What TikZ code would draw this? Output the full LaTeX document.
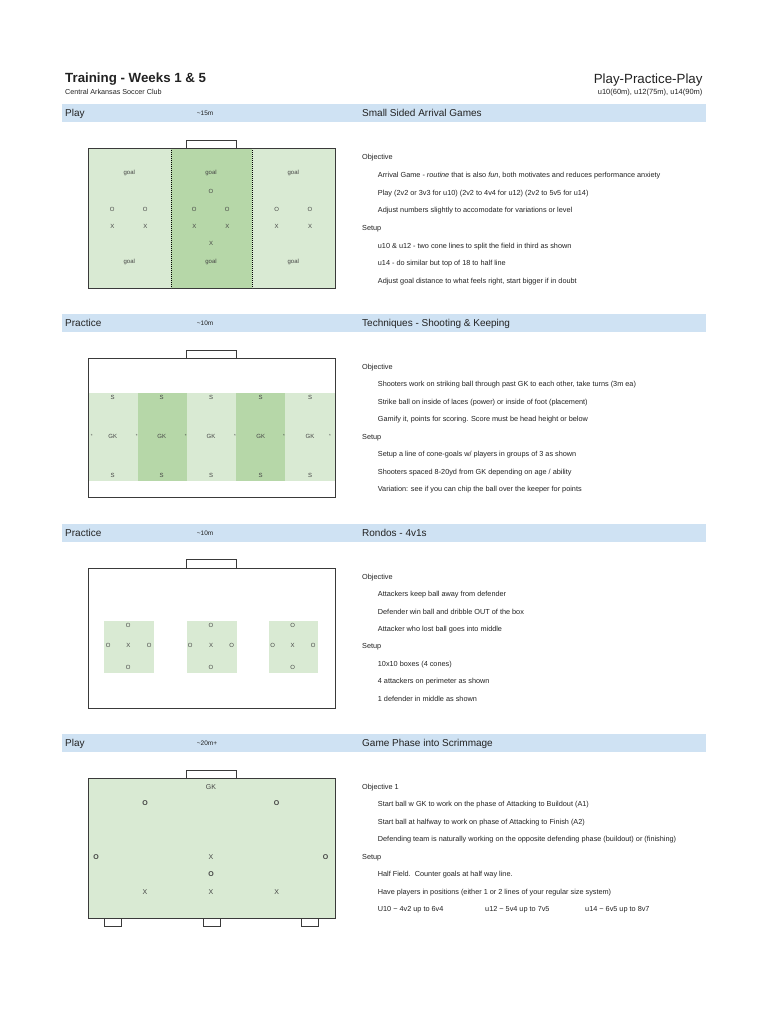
\documentclass[tikz,border=0pt]{standalone}
\usepackage{fontspec}
\setmainfont{Liberation Sans}
\definecolor{barblue}{HTML}{CFE2F3}
\definecolor{lgreen}{HTML}{D9EAD3}
\definecolor{dgreen}{HTML}{B6D7A8}
\definecolor{edgegray}{HTML}{3A3A3A}
\definecolor{ink}{HTML}{222222}
\definecolor{lblink}{HTML}{444444}
\begin{document}
\begin{tikzpicture}[x=1pt,y=-1pt,
  body/.style={anchor=mid west, inner sep=0pt, font=\fontsize{7.3}{8}\selectfont, text=ink},
  barhead/.style={anchor=base west, inner sep=0pt, font=\fontsize{10}{12}\selectfont, text=ink},
  barsmall/.style={anchor=base west, inner sep=0pt, font=\fontsize{6.5}{7}\selectfont, text=ink},
  lbl/.style={inner sep=0pt, font=\fontsize{6}{7}\selectfont, text=lblink},
  lblb/.style={inner sep=0pt, font=\fontsize{7}{8}\selectfont, text=lblink},
  cone/.style={inner sep=0pt, font=\fontsize{4.5}{5}\selectfont, text=lblink},
  fieldline/.style={draw=edgegray, line width=0.9pt},
  barfill/.style={fill=barblue}]
\useasboundingbox[fill=white] (0,0) rectangle (768,1024);

% ---------- page header ----------
\node[anchor=base west, inner sep=0pt, font=\fontsize{13.3}{15}\selectfont\bfseries, text=ink] (title) at (65,82.7) {Training - Weeks 1 \& 5};
\node[anchor=base west, inner sep=0pt, font=\fontsize{7.2}{8}\selectfont, text=ink] (club) at (65,94.7) {Central Arkansas Soccer Club};
\node[anchor=base east, inner sep=0pt, font=\fontsize{13.3}{15}\selectfont, text=ink] (ppp) at (702.7,83.3) {Play-Practice-Play};
\node[anchor=base east, inner sep=0pt, font=\fontsize{7.5}{8}\selectfont, text=ink] (ages) at (702.7,94.3) {u10(60m), u12(75m), u14(90m)};

% ================= Section 1 =================
\fill[barfill] (61.7,104) rectangle (706,122);
\node[barhead] (h1a) at (65,116.7) {Play};
\node[barsmall] (h1b) at (196.7,115.5) {\textasciitilde15m};
\node[barhead] (h1c) at (362,116.7) {Small Sided Arrival Games};

\fill[lgreen] (88.3,148.3) rectangle (171,288.3);
\fill[dgreen] (171,148.3) rectangle (252.3,288.3);
\fill[lgreen] (252.3,148.3) rectangle (335,288.3);
\draw[draw=black, line width=0.8pt, dash pattern=on 1pt off 1pt] (171,148.3) -- (171,288.3);
\draw[draw=black, line width=0.8pt, dash pattern=on 1pt off 1pt] (252.3,148.3) -- (252.3,288.3);
\draw[fieldline] (88.3,148.3) rectangle (335,288.3);
\draw[fieldline] (186.7,148.3) -- (186.7,140) -- (236.7,140) -- (236.7,148.3);

\foreach \x/\n in {129.3/a,211/b,293.3/c}{
  \node[lbl] (g1t\n) at (\x,173.3) {goal};
  \node[lbl] (g1b\n) at (\x,261.7) {goal};
}
\node[lbl] (o1top) at (211,191.7) {O};
\foreach \x/\n in {112.3/a,145.3/b,194.3/c,227.3/d,276.7/e,310/f}{
  \node[lbl] (o1\n) at (\x,209) {O};
  \node[lbl] (x1\n) at (\x,226) {X};
}
\node[lbl] (x1bot) at (211,243.7) {X};

\node[body] (t1o) at (362,157.3) {Objective};
\node[body] (t1a) at (377.7,175) {Arrival Game - \textit{routine} that is also \textit{fun}, both motivates and reduces performance anxiety};
\node[body] (t1b) at (377.7,192.7) {Play (2v2 or 3v3 for u10) (2v2 to 4v4 for u12) (2v2 to 5v5 for u14)};
\node[body] (t1c) at (377.7,210.3) {Adjust numbers slightly to accomodate for variations or level};
\node[body] (t1s) at (362,228.3) {Setup};
\node[body] (t1d) at (377.7,245.7) {u10 \& u12 - two cone lines to split the field in third as shown};
\node[body] (t1e) at (377.7,263) {u14 - do similar but top of 18 to half line};
\node[body] (t1f) at (377.7,280.7) {Adjust goal distance to what feels right, start bigger if in doubt};

% ================= Section 2 =================
\begin{scope}[shift={(0,210)}]
\fill[barfill] (61.7,104) rectangle (706,122);
\node[barhead] (h2a) at (65,116.7) {Practice};
\node[barsmall] (h2b) at (196.7,115.5) {\textasciitilde10m};
\node[barhead] (h2c) at (362,116.7) {Techniques - Shooting \& Keeping};

\fill[lgreen] (88.3,183.3) rectangle (137.7,270.7);
\fill[dgreen] (137.7,183.3) rectangle (186.7,270.7);
\fill[lgreen] (186.7,183.3) rectangle (236,270.7);
\fill[dgreen] (236,183.3) rectangle (285,270.7);
\fill[lgreen] (285,183.3) rectangle (335,270.7);
\draw[fieldline] (88.3,148.3) rectangle (335,287.3);
\draw[fieldline] (186.7,148.3) -- (186.7,140) -- (236.7,140) -- (236.7,148.3);

\foreach \x/\n in {112.7/a,161.7/b,211/c,260.7/d,310/e}{
  \node[lbl] (s2t\n) at (\x,187.7) {S};
  \node[lbl] (gk2\n) at (\x,226.7) {GK};
  \node[lbl] (s2b\n) at (\x,265.7) {S};
}
\foreach \x/\n in {91.7/a,136.7/b,185.7/c,235/d,284/e,330/f}{
  \node[cone] (c2\n) at (\x,225.5) {*};
}

\node[body] (t2o) at (362,157.3) {Objective};
\node[body] (t2a) at (377.7,174.3) {Shooters work on striking ball through past GK to each other, take turns (3m ea)};
\node[body] (t2b) at (377.7,191.7) {Strike ball on inside of laces (power) or inside of foot (placement)};
\node[body] (t2c) at (377.7,209.3) {Gamify it, points for scoring. Score must be head height or below};
\node[body] (t2s) at (362,226.7) {Setup};
\node[body] (t2d) at (377.7,244.3) {Setup a line of cone-goals w/ players in groups of 3 as shown};
\node[body] (t2e) at (377.7,261.7) {Shooters spaced 8-20yd from GK depending on age / ability};
\node[body] (t2f) at (377.7,279.3) {Variation: see if you can chip the ball over the keeper for points};
\end{scope}

% ================= Section 3 =================
\begin{scope}[shift={(0,420)}]
\fill[barfill] (61.7,104) rectangle (706,122);
\node[barhead] (h3a) at (65,116.7) {Practice};
\node[barsmall] (h3b) at (196.7,115.5) {\textasciitilde10m};
\node[barhead] (h3c) at (362,116.7) {Rondos - 4v1s};

\draw[fieldline] (88.3,148.3) rectangle (335,288.3);
\draw[fieldline] (186.7,148.3) -- (186.7,139.3) -- (236.7,139.3) -- (236.7,148.3);

\foreach \l/\r/\n in {104/154.3/a,186.7/236.7/b,269/318.3/c}{
  \fill[lgreen] (\l,200.7) rectangle (\r,253.3);
}
\foreach \lo/\mx/\ro/\n in {108.3/128.3/149.3/a,190.3/211/231.7/b,272.7/292.7/313.3/c}{
  \node[lbl] (o3t\n) at (\mx,205.7) {O};
  \node[lbl] (o3l\n) at (\lo,225.7) {O};
  \node[lbl] (x3\n) at (\mx,225.7) {X};
  \node[lbl] (o3r\n) at (\ro,225.7) {O};
  \node[lbl] (o3b\n) at (\mx,247.7) {O};
}

\node[body] (t3o) at (362,157.3) {Objective};
\node[body] (t3a) at (377.7,174.3) {Attackers keep ball away from defender};
\node[body] (t3b) at (377.7,191.7) {Defender win ball and dribble OUT of the box};
\node[body] (t3c) at (377.7,209.3) {Attacker who lost ball goes into middle};
\node[body] (t3s) at (362,226.3) {Setup};
\node[body] (t3d) at (377.7,244) {10x10 boxes (4 cones)};
\node[body] (t3e) at (377.7,261.3) {4 attackers on perimeter as shown};
\node[body] (t3f) at (377.7,279) {1 defender in middle as shown};
\end{scope}

% ================= Section 4 =================
\begin{scope}[shift={(0,630)}]
\fill[barfill] (61.7,104) rectangle (706,122);
\node[barhead] (h4a) at (65,116.7) {Play};
\node[barsmall] (h4b) at (196.7,115.5) {\textasciitilde20m+};
\node[barhead] (h4c) at (362,116.7) {Game Phase into Scrimmage};

\fill[lgreen] (88.3,148.3) rectangle (335,288.3);
\draw[fieldline] (88.3,148.3) rectangle (335,288.3);
\draw[fieldline] (186.7,148.3) -- (186.7,140) -- (236.7,140) -- (236.7,148.3);
\foreach \l/\r in {104.3/121.7,203.3/220.7,301.7/318.3}{
  \draw[fieldline] (\l,288.3) -- (\l,296.7) -- (\r,296.7) -- (\r,288.3);
}

\node[lblb] (gk4) at (211,156.7) {GK};
\node[lblb, font=\fontsize{7}{8}\selectfont\bfseries] (o4a) at (145,173.3) {O};
\node[lblb, font=\fontsize{7}{8}\selectfont\bfseries] (o4b) at (276.7,173.3) {O};
\node[lblb, font=\fontsize{7}{8}\selectfont\bfseries] (o4c) at (96,226.7) {O};
\node[lblb] (x4a) at (211,226.7) {X};
\node[lblb, font=\fontsize{7}{8}\selectfont\bfseries] (o4d) at (325.7,226.7) {O};
\node[lblb, font=\fontsize{7}{8}\selectfont\bfseries] (o4e) at (211,244) {O};
\node[lblb] (x4b) at (145,261.7) {X};
\node[lblb] (x4c) at (211,261.7) {X};
\node[lblb] (x4d) at (276.7,261.7) {X};

\node[body] (t4o) at (362,157.3) {Objective 1};
\node[body] (t4a) at (377.7,174.3) {Start ball w GK to work on the phase of Attacking to Buildout (A1)};
\node[body] (t4b) at (377.7,191.7) {Start ball at halfway to work on phase of Attacking to Finish (A2)};
\node[body] (t4c) at (377.7,209.3) {Defending team is naturally working on the opposite defending phase (buildout) or (finishing)};
\node[body] (t4s) at (362,226.7) {Setup};
\node[body] (t4d) at (377.7,244.3) {Half Field.\ \ Counter goals at half way line.};
\node[body] (t4e) at (377.7,261.7) {Have players in positions (either 1 or 2 lines of your regular size system)};
\node[body] (t4f) at (377.7,279.3) {U10 \textasciitilde\ 4v2 up to 6v4};
\node[body] (t4g) at (485,279.3) {u12 \textasciitilde\ 5v4 up to 7v5};
\node[body] (t4h) at (585,279.3) {u14 \textasciitilde\ 6v5 up to 8v7};
\end{scope}
\end{tikzpicture}
\end{document}
